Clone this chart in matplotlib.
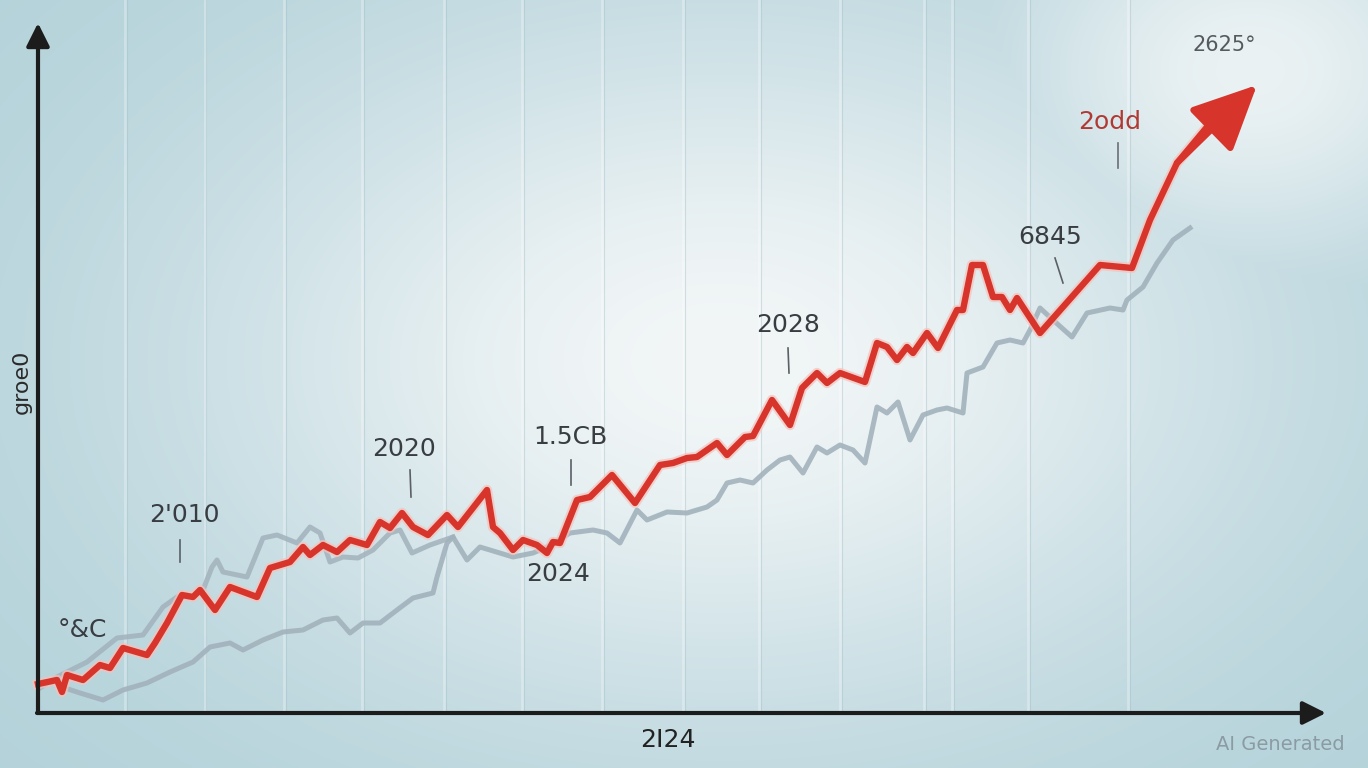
import numpy as np
import matplotlib
matplotlib.use("Agg")
from matplotlib import pyplot as plt
from matplotlib.patches import FancyArrowPatch
import matplotlib.patheffects as pe

# red series (main trend), last point is the arrow tip
red_x = [0.0, 1.9, 2.4, 2.9, 4.5, 6.2, 7.2, 8.5, 10.9, 11.7, 12.9, 14.4, 15.5, 16.2, 17.7, 19.2,
         21.9, 23.2, 25.2, 26.5, 27.2, 28.5, 29.9, 31.2, 32.9, 34.2, 35.2, 36.4, 37.5, 39.0, 40.9,
         42.0, 44.9, 45.5, 46.2, 47.5, 48.5, 49.9, 50.9, 51.5, 52.2, 53.9, 55.2, 57.4, 59.7, 62.2,
         63.5, 64.9, 65.9, 67.9, 68.9, 70.7, 71.5, 73.4, 75.2, 76.4, 77.9, 78.9, 80.2, 82.7, 83.9,
         84.9, 85.9, 86.9, 87.5, 88.9, 90.0, 91.9, 92.5, 93.4, 94.5, 95.5, 96.4, 97.2, 97.9, 100.2,
         106.2, 109.4, 111.2, 113.9, 116.9, 121.9]
red_y = [5.8, 6.6, 4.2, 7.6, 6.6, 9.6, 9.0, 13.0, 11.6, 14.0, 18.0, 23.6, 23.2, 24.6, 20.6, 25.2,
         23.2, 29.0, 30.2, 33.2, 31.6, 33.6, 32.2, 34.6, 33.6, 38.2, 37.0, 40.0, 37.2, 35.6, 39.6,
         37.2, 44.6, 37.2, 36.0, 32.6, 34.6, 33.6, 32.0, 34.2, 34.0, 42.6, 43.2, 47.6, 42.0, 49.6,
         50.0, 51.0, 51.2, 54.0, 51.6, 55.2, 55.4, 62.6, 57.6, 65.0, 68.0, 66.0, 68.0, 66.2, 74.0,
         73.2, 70.6, 73.2, 72.0, 76.0, 73.0, 80.6, 80.6, 89.6, 89.6, 83.2, 83.2, 80.6, 83.0, 76.0,
         89.6, 89.0, 98.6, 110.0, 117.2, 125.6]

# upper grey series (fades out after the merge)
grey1_x = [0.2, 1.9, 4.9, 7.9, 10.5, 12.5, 13.9, 15.5, 16.5, 17.4, 17.9, 18.5, 20.9, 22.5, 23.9,
           25.9, 27.2, 28.2, 29.2, 30.5, 32.0, 33.5, 35.2, 36.2, 37.4, 39.2, 41.5]
grey1_y = [5.0, 7.2, 10.2, 15.0, 15.6, 21.2, 23.2, 23.2, 24.6, 29.2, 30.6, 28.2, 27.2, 35.0, 35.6,
           34.0, 37.2, 36.0, 30.2, 31.2, 31.0, 32.6, 36.0, 36.6, 32.0, 33.6, 35.2]

# lower grey series (continues to the right)
grey2_x = [2.4, 4.2, 6.5, 8.5, 10.9, 13.2, 15.5, 17.2, 19.2, 20.5, 22.5, 24.5, 26.5, 28.5, 29.9,
           31.2, 32.5, 34.2, 35.9, 37.5, 39.5, 39.9, 40.9, 41.5, 42.9, 44.2, 47.5, 49.5, 50.9,
           53.2, 55.5, 56.9, 58.2, 59.9, 60.9, 62.9, 64.9, 66.9, 67.9, 68.9, 70.2, 71.5, 72.9,
           74.2, 75.2, 76.5, 77.9, 78.9, 80.2, 81.5, 82.7, 83.9, 84.9, 86.0, 87.2, 88.5, 89.9,
           90.9, 92.5, 92.9, 94.5, 95.9, 97.2, 98.5, 99.2, 100.2, 101.5, 103.4, 104.9, 107.2,
           108.5, 108.9, 110.5, 111.9, 113.5, 115.2]
grey2_y = [5.2, 4.0, 2.6, 4.6, 6.0, 8.2, 10.2, 13.2, 14.0, 12.6, 14.6, 16.2, 16.6, 18.6, 19.0,
           16.0, 18.0, 18.0, 20.6, 23.0, 24.0, 27.2, 34.0, 35.2, 30.6, 33.2, 31.2, 32.0, 33.2,
           36.0, 36.6, 36.0, 34.0, 40.6, 38.6, 40.2, 40.0, 41.2, 42.6, 46.0, 46.6, 46.0, 48.6,
           50.6, 51.2, 48.0, 53.2, 52.0, 53.6, 52.6, 50.0, 61.2, 60.0, 62.2, 54.6, 59.6, 60.6,
           61.0, 60.0, 68.0, 69.2, 74.0, 74.6, 74.0, 76.6, 81.0, 78.6, 75.2, 80.0, 81.0,
           80.6, 82.6, 85.2, 90.0, 94.6, 97.0]

grid_x = [8.7, 16.7, 24.6, 32.4, 40.6, 48.4, 56.4, 64.5, 72.1, 80.2, 88.6, 91.4, 99.0, 109.0]

# floating labels: text, x, y, tick (x0, y0, x1, y1) or None
labels = [
    ("°&C", 4.4, 16.6, None),
    ("2'010", 14.6, 39.6, (14.2, 34.6, 14.2, 30.2)),
    ("2020", 36.6, 52.8, (37.2, 48.6, 37.3, 43.2)),
    ("1.5CB", 53.2, 55.2, (53.3, 50.6, 53.3, 45.6)),
    ("2024", 52.0, 27.8, None),
    ("2028", 75.0, 77.6, (75.0, 73.0, 75.1, 68.0)),
    ("6845", 101.2, 95.2, (101.7, 91.0, 102.5, 86.0)),
]

RED = "#d7352b"
GREY = "#a2b2bc"
TXT = "#383d42"

fig = plt.figure(figsize=(13.68, 7.68), dpi=100)

# background gradient
bg = fig.add_axes([0, 0, 1, 1])
H, W = 768, 1368
yy, xx = np.mgrid[0:H, 0:W]
g1 = np.exp(-(((xx - 720) / 540.0) ** 2 + ((yy - 360) / 350.0) ** 2))
g2 = np.exp(-(((xx - 1250) / 260.0) ** 2 + ((yy - 70) / 200.0) ** 2))
g = np.clip(np.maximum(g1, g2 * 0.88), 0, 1)
edge = np.array([178, 209, 217]) / 255.0
light = np.array([242, 246, 247]) / 255.0
img = edge[None, None, :] * (1 - g[..., None]) + light[None, None, :] * g[..., None]
bg.imshow(img, aspect="auto", extent=[0, 1, 0, 1], origin="upper")
bg.axis("off")

ax = fig.add_axes([0, 0, 1, 1])
ax.set_facecolor("none")
ax.set_xlim(-3.8, 133.0)
ax.set_ylim(-11.0, 142.6)
ax.axis("off")

for gx in grid_x:
    ax.plot([gx, gx], [0, 142.6], color="#ffffff", lw=2.0, alpha=0.3, zorder=1)
    ax.plot([gx + 0.15, gx + 0.15], [0, 142.6], color="#9fbcc6", lw=0.8, alpha=0.4, zorder=1)

ax.plot(grey1_x, grey1_y, color=GREY, lw=3.6, alpha=0.85, solid_joinstyle="round", zorder=2)
ax.plot(grey2_x, grey2_y, color=GREY, lw=3.6, alpha=0.9, solid_joinstyle="round", zorder=2)

glow = [pe.withStroke(linewidth=7.5, foreground="#f6c2bb", alpha=0.7)]
ax.plot(red_x[:-1], red_y[:-1], color=RED, lw=4.6, solid_joinstyle="round",
        path_effects=glow, zorder=3)
arr = FancyArrowPatch((red_x[-3], red_y[-3]), (red_x[-1], red_y[-1]),
                      arrowstyle="-|>,head_length=40,head_width=19",
                      color=RED, lw=4.6, mutation_scale=1, shrinkA=0, shrinkB=0, zorder=3)
ax.add_patch(arr)

# axes with arrows
ax.annotate("", xy=(0, 138.0), xytext=(0, 0),
            arrowprops=dict(arrowstyle="-|>,head_length=14,head_width=7", color="#1c1c1c",
                            lw=3, mutation_scale=1, shrinkA=0, shrinkB=0), zorder=4)
ax.annotate("", xy=(128.8, 0), xytext=(-0.1, 0),
            arrowprops=dict(arrowstyle="-|>,head_length=14,head_width=7", color="#1c1c1c",
                            lw=3, mutation_scale=1, shrinkA=0, shrinkB=0), zorder=4)

for txt, tx, ty, tick in labels:
    ax.text(tx, ty, txt, fontsize=18, color=TXT, ha="center", va="center", zorder=5)
    if tick is not None:
        ax.plot([tick[0], tick[2]], [tick[1], tick[3]], color="#5a6066", lw=1.2, zorder=5)

ax.text(107.2, 118.2, "2odd", fontsize=18, color="#b03a33", ha="center", va="center", zorder=5)
ax.plot([108.0, 108.0], [114.0, 109.0], color="#6a6f74", lw=1.2, zorder=5)
ax.text(118.6, 133.6, "2625°", fontsize=15, color="#555a5f", ha="center", va="center", zorder=5)

ax.text(63.0, -5.4, "2I24", fontsize=18, color="#222222", ha="center", va="center")
ax.text(-1.6, 66.2, "groe0", fontsize=16, color="#2a2a2a", ha="center", va="center", rotation=90)
ax.text(124.2, -6.4, "AI Generated", fontsize=14, color="#8b9ba4", ha="center", va="center")

fig.savefig("out.png", dpi=100)
